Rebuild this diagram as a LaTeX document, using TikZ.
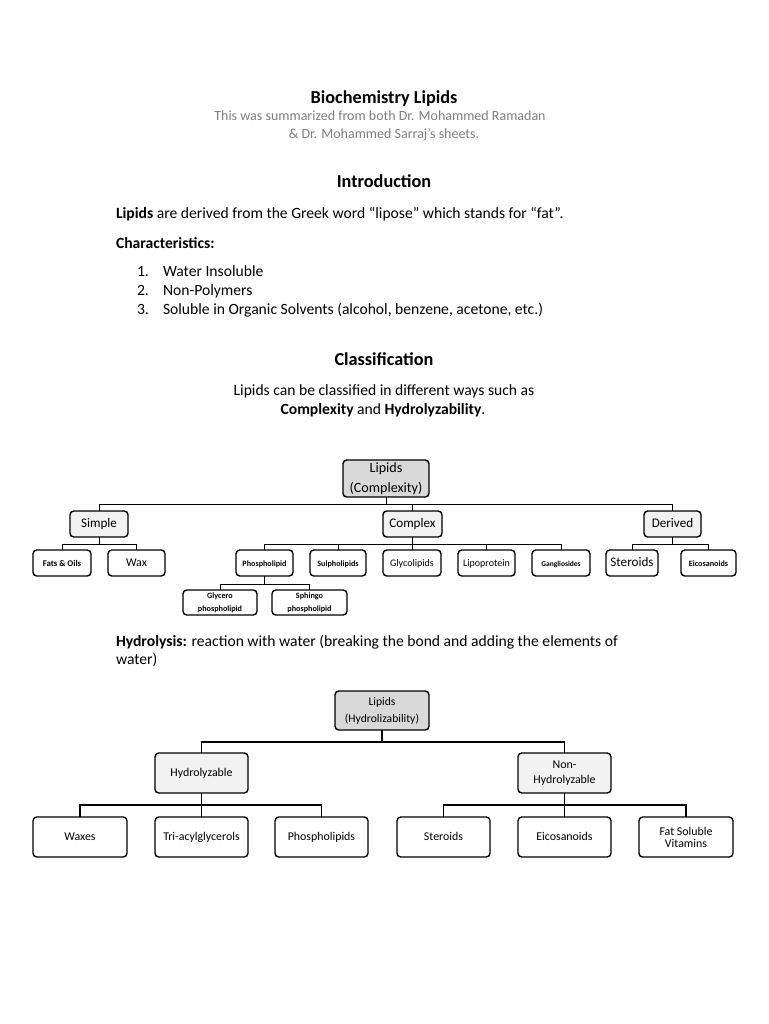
\documentclass[tikz,border=0pt]{standalone}
\usepackage{fontspec}
\setmainfont{Carlito}
\definecolor{subgray}{HTML}{7F7F7F}
\definecolor{topfill}{HTML}{D9D9D9}
\definecolor{midfill}{HTML}{F2F2F2}
\begin{document}
\begin{tikzpicture}[x=0.8pt,y=-0.8pt,
  every node/.style={inner sep=0pt,outer sep=0pt},
  body/.style={anchor=base west,font=\fontsize{12.5}{15}\selectfont},
  cbody/.style={anchor=base,font=\fontsize{12.5}{15}\selectfont},
  subt/.style={anchor=base,font=\fontsize{11.2}{14}\selectfont,text=subgray},
  head/.style={anchor=base,font=\bfseries\fontsize{14.6}{17}\selectfont},
  bx/.style 2 args={draw,rounded corners=3pt,line width=1.1pt,align=center,
     minimum width={#1*0.8pt},minimum height={#2*0.8pt},fill=white},
  one/.style={text height=0.62em,text depth=0.05em},
  topbox/.style={fill=topfill},
  midbox/.style={fill=midfill},
  conA/.style={line width=0.8pt},
  conB/.style={line width=1.5pt},
  fa/.style={font=\fontsize{11.3}{16}\selectfont},
  fb/.style={font=\fontsize{10.5}{12}\selectfont},
  fsm/.style={font=\bfseries\fontsize{6.5}{10.4}\selectfont},
  fmd/.style={font=\fontsize{8}{10}\selectfont},
  ft/.style={font=\fontsize{9.5}{9.6}\selectfont},
  fth/.style={font=\fontsize{9.3}{13.6}\selectfont}
]
\path[fill=white] (0,0) rectangle (768,1024);

% header
\node[head] (title) at (384,104) {Biochemistry Lipids};
\node[subt] (sub1) at (380,121) {This was summarized from both Dr. Mohammed Ramadan};
\node[subt] (sub2) at (384,139) {\& Dr. Mohammed Sarraj’s sheets.};

\node[head] (intro) at (384,188) {Introduction};
\node[body] (def) at (116,219) {\textbf{Lipids} are derived from the Greek word “lipose” which stands for “fat”.};
\node[body] (char) at (116,248) {\textbf{Characteristics:}};
\node[body] (n1) at (137,276) {1.};
\node[body] (t1) at (163,276) {Water Insoluble};
\node[body] (n2) at (137,295) {2.};
\node[body] (t2) at (163,295) {Non-Polymers};
\node[body] (n3) at (137,314) {3.};
\node[body] (t3) at (163,314) {Soluble in Organic Solvents (alcohol, benzene, acetone, etc.)};

\node[head] (class) at (384,365) {Classification};
\node[cbody] (cl1) at (384,395) {Lipids can be classified in different ways such as};
\node[cbody] (cl2) at (383,414) {\textbf{Complexity} and \textbf{Hydrolyzability}.};

% tree 1
\node[bx={86}{37},topbox,fa] (lipc) at (386,478.5) {Lipids\\(Complexity)};
\node[bx={58}{26},midbox,fb,one] (simple) at (99,524) {Simple};
\node[bx={59}{26},midbox,fb,one] (complex) at (412.5,524) {Complex};
\node[bx={57}{26},midbox,fb,one] (derived) at (672.5,524) {Derived};

\node[bx={58}{26},one,font=\bfseries\fontsize{7}{8}\selectfont] (fats) at (62,563) {Fats \& Oils};
\node[bx={57}{26},one,font=\fontsize{9.5}{11}\selectfont] (wax) at (136.5,563) {Wax};

\node[bx={57}{26},one,fsm] (phos) at (264.5,563) {Phospholipid};
\node[bx={56}{26},one,fsm] (sulph) at (338,563) {Sulpholipids};
\node[bx={58}{26},one,fmd] (glyco) at (412,563) {Glycolipids};
\node[bx={57}{26},one,fmd] (lipo) at (486.5,563) {Lipoprotein};
\node[bx={58}{26},one,font=\bfseries\fontsize{6}{8}\selectfont] (gang) at (561,563) {Gangliosides};

\node[bx={52}{26},one,font=\fontsize{10.5}{12}\selectfont] (ster1) at (632,563) {Steroids};
\node[bx={55}{26},one,font=\bfseries\fontsize{6.5}{8}\selectfont] (eico1) at (708.5,563) {Eicosanoids};

\node[bx={74}{25},fsm] (glyp) at (220,602.5) {Glycero\\phospholipid};
\node[bx={75}{25},fsm] (sphp) at (309.5,602.5) {Sphingo\\phospholipid};

\foreach \c in {simple,complex,derived}
  \draw[conA] (lipc.south) -- ++(0,7) -| (\c.north);
\foreach \c in {fats,wax}
  \draw[conA] (simple.south) -- ++(0,7) -| (\c.north);
\foreach \c in {phos,sulph,glyco,lipo,gang}
  \draw[conA] (complex.south) -- ++(0,7) -| (\c.north);
\foreach \c in {ster1,eico1}
  \draw[conA] (derived.south) -- ++(0,7) -| (\c.north);
\foreach \c in {glyp,sphp}
  \draw[conA] (phos.south) -- ++(0,8) -| (\c.north);

% hydrolysis text
\node[body] (hyd1) at (116,646) {\textbf{Hydrolysis:} reaction with water (breaking the bond and adding the elements of};
\node[body] (hyd2) at (116,664) {water)};

% tree 2
\node[bx={94}{39},topbox,fth] (liph) at (382,710.5) {Lipids\\(Hydrolizability)};
\node[bx={93}{40},midbox,ft,one] (hydz) at (201.5,773) {Hydrolyzable};
\node[bx={93}{40},midbox,ft] (nonh) at (564.5,773) {Non-\\[2.4pt]Hydrolyzable};

\node[bx={94}{40},ft,one] (waxes) at (80,837) {Waxes};
\node[bx={93}{40},ft,one] (tri) at (201.5,837) {Tri-acylglycerols};
\node[bx={93}{40},ft,one] (phos2) at (321.5,837) {Phospholipids};
\node[bx={93}{40},ft,one] (ster2) at (443.5,837) {Steroids};
\node[bx={93}{40},ft,one] (eico2) at (564.5,837) {Eicosanoids};
\node[bx={94}{40},ft] (fsv) at (686,837) {Fat Soluble\\Vitamins};

\foreach \c in {hydz,nonh}
  \draw[conA,line width=1pt] (liph.south) -- ++(0,12) -| (\c.north);
\foreach \c in {waxes,tri,phos2}
  \draw[conB] (hydz.south) -- ++(0,12) -| (\c.north);
\foreach \c in {ster2,eico2,fsv}
  \draw[conB] (nonh.south) -- ++(0,12) -| (\c.north);
\end{tikzpicture}
\end{document}
